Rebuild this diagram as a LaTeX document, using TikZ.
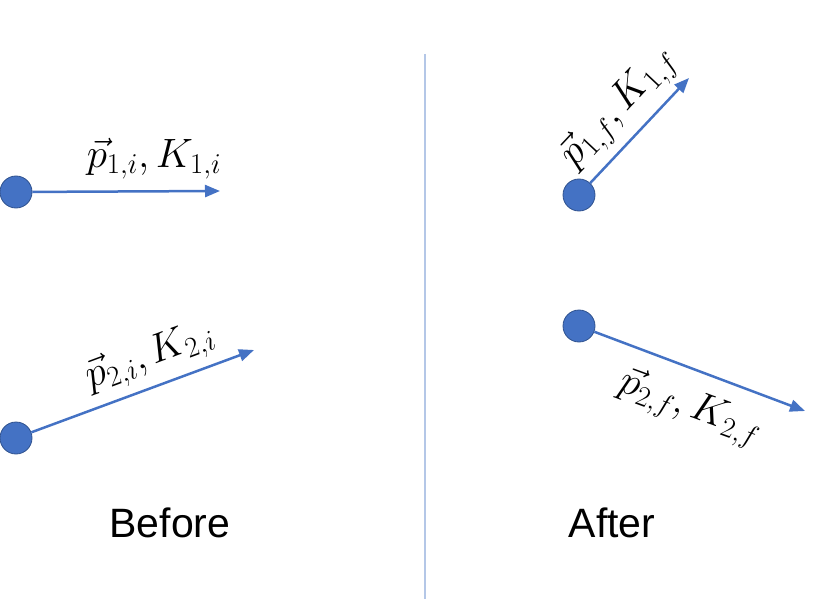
\RequirePackage{fix-cm}
\documentclass[tikz,border=0pt]{standalone}
\usepackage{fontspec}
\setsansfont{Liberation Sans}
\usetikzlibrary{arrows.meta,positioning}
\definecolor{azul}{HTML}{4472C4}
\definecolor{azuloscuro}{HTML}{2F528F}
\definecolor{divisor}{HTML}{B4C7E7}
\tikzset{
	particula/.style={circle, fill=azul, draw=azuloscuro, line width=0.8pt, 
		minimum size=32pt, inner sep=0pt},
	flecha/.style={draw=azul, line width=2.5pt, 
		-{Triangle[length=15pt,width=12pt]}},
	etiqueta/.style={font=\fontsize{41}{49}\selectfont, inner sep=0pt},
	rotulo/.style={font=\sffamily\fontsize{41}{49}\selectfont, inner sep=0pt, anchor=base}
}

\begin{document}
\begin{tikzpicture}[x=1pt,y=-1pt]
			\useasboundingbox (0,0) rectangle (820,599);
			
			% antes
			\node[particula] (p1i) at (16,192) {};
			\coordinate (e1i) at (220,191);
			\draw[flecha] (p1i) -- (e1i);
			\node[etiqueta] (l1i) at (154,159) {$\vec{p}_{1,i}, K_{1,i}$};
			
			\node[particula] (p2i) at (16,438) {};
			\coordinate (e2i) at (254,350);
			\draw[flecha] (p2i) -- (e2i);
			\node[etiqueta, rotate=20.4] (l2i) at (150,357) {$\vec{p}_{2,i}, K_{2,i}$};
			
			\node[rotulo] (antes) at (170,537) {Before};
			
			% division
			\draw[divisor, line width=1.5pt] (425,54) -- (425,599);
			
			% despues
			\node[particula] (p1f) at (579,195) {};
			\coordinate (e1f) at (689,78);
			\draw[flecha] (p1f) -- (e1f);
			\node[etiqueta, rotate=46.8] (l1f) at (619,108) {$\vec{p}_{1,f}, K_{1,f}$};
			
			\node[particula] (p2f) at (579,326) {};
			\coordinate (e2f) at (805,411);
			\draw[flecha] (p2f) -- (e2f);
			\node[etiqueta, rotate=-20.2] (l2f) at (690,408) {$\vec{p}_{2,f}, K_{2,f}$};
			
			\node[rotulo] (despues) at (612,537) {After};
		\end{tikzpicture}
\end{document}
